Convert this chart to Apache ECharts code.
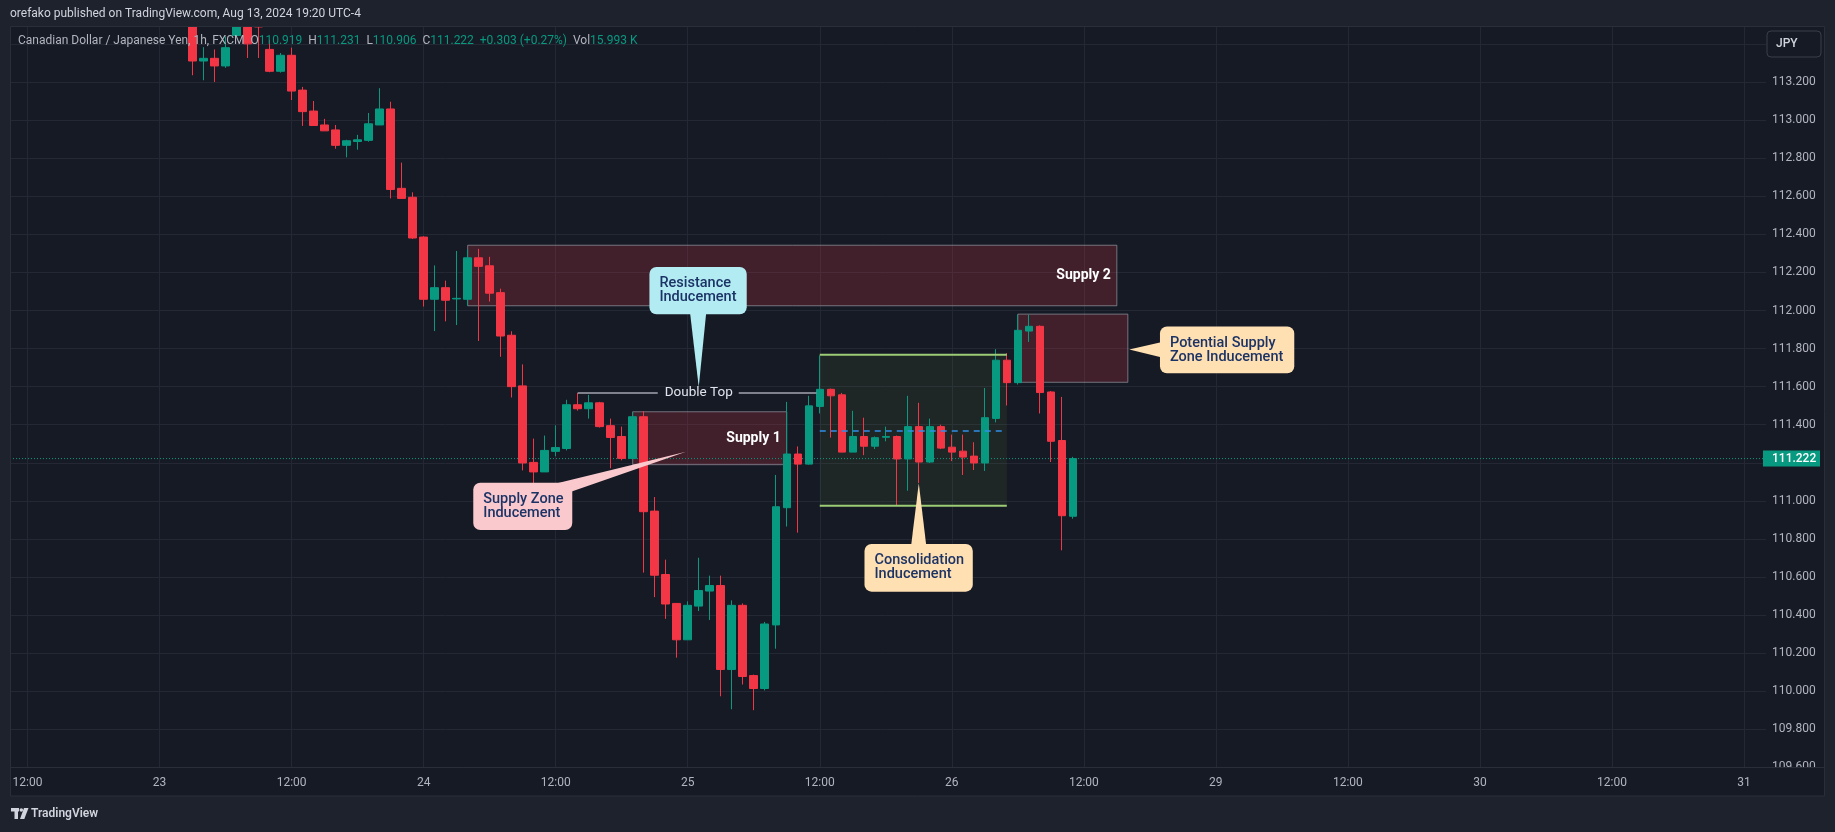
<!DOCTYPE html>
<html>
<head>
<meta charset="utf-8">
<script src="https://cdn.jsdelivr.net/npm/echarts@6.0.0/dist/echarts.min.js"></script>
<style>
html,body{margin:0;padding:0;background:#1e222d;overflow:hidden}
#chart{width:1835px;height:832px}
</style>
</head>
<body>
<div id="chart"></div>
<script>
// ---------------- DATA ----------------
// hourly session days shown on the time axis (weekend skipped)
const sessionDays = ['22', '23', '24', '25', '26', '29', '30', '31'];
const firstDayStartHour = 10;
const lastDayEndHour = 2;
// first visible candle
const firstCandleTime = 'Jul 23 03:00';
// CADJPY 1h candles
const openP = [113.52,113.311,113.325,113.285,113.445,113.52,113.56,113.372,113.257,113.341,113.158,113.048,112.975,112.949,112.868,112.888,112.894,112.975,113.059,112.642,112.595,112.386,112.059,112.120,112.061,112.059,112.277,112.235,112.094,111.870,111.604,111.202,111.152,111.260,111.275,111.505,111.484,111.515,111.395,111.338,111.223,111.442,110.946,110.613,110.461,110.270,110.447,110.526,110.555,110.114,110.451,110.082,110.014,110.348,110.964,111.246,111.193,111.496,111.586,111.557,111.256,111.338,111.287,111.334,111.338,111.220,111.390,111.204,111.390,111.282,111.261,111.235,111.199,111.433,111.739,111.621,111.892,111.917,111.572,111.317,110.919];
const closeP = [113.311,113.325,113.285,113.381,113.53,113.401,113.49,113.257,113.341,113.153,113.045,112.972,112.944,112.868,112.892,112.897,112.981,113.059,112.636,112.589,112.381,112.059,112.120,112.054,112.064,112.277,112.232,112.091,111.866,111.600,111.199,111.152,111.265,111.280,111.505,111.484,111.515,111.390,111.333,111.223,111.442,110.943,110.609,110.458,110.270,110.451,110.529,110.555,110.114,110.451,110.077,110.014,110.353,110.969,111.246,111.193,111.499,111.586,111.552,111.256,111.338,111.287,111.332,111.338,111.220,111.390,111.204,111.390,111.277,111.256,111.230,111.199,111.437,111.739,111.621,111.896,111.917,111.569,111.313,110.922,111.222];
const lowP = [113.236,113.210,113.201,113.275,113.44,113.327,113.327,113.252,113.25,113.106,112.970,112.972,112.944,112.850,112.805,112.845,112.887,112.975,112.589,112.589,112.376,112.021,111.892,111.943,111.924,112.025,111.840,112.047,111.757,111.543,111.160,110.95,111.152,111.234,111.265,111.474,111.432,111.385,111.171,111.213,111.22,110.623,110.494,110.380,110.176,110.270,110.421,110.374,109.973,109.905,110.035,109.900,110.004,110.223,110.865,110.833,111.19,111.459,111.332,111.256,111.256,111.240,111.272,111.313,110.974,111.053,111.094,111.199,111.272,111.209,111.136,111.162,111.157,111.412,111.501,111.611,111.835,111.459,111.204,110.740,110.906];
const highP = [113.56,113.384,113.372,113.440,113.57,113.55,113.58,113.422,113.353,113.381,113.175,113.101,113.007,112.975,112.897,112.923,113.038,113.168,113.097,112.777,112.621,112.39,112.237,112.157,112.313,112.32,112.324,112.282,112.115,111.891,111.717,111.327,111.343,111.397,111.531,111.567,111.557,111.520,111.432,111.390,111.468,111.472,111.020,110.691,110.461,110.472,110.701,110.607,110.607,110.477,110.461,110.087,110.364,111.136,111.520,111.286,111.552,111.764,111.59,111.567,111.473,111.437,111.338,111.390,111.343,111.552,111.515,111.432,111.400,111.348,111.348,111.308,111.593,111.797,111.776,111.979,111.979,111.922,111.577,111.546,111.231];

// Zones drawn on the chart: [startIndex, endIndex, topPrice, bottomPrice]
const supplyZones = [
  { label: 'Supply 2', x1: 42, x2: 101, top: 112.343, bottom: 112.025 },
  { label: 'Supply 1', x1: 57, x2: 71,  top: 111.468, bottom: 111.190 },
  { label: '',         x1: 92, x2: 102, top: 111.981, bottom: 111.623 }
];
const consolidationZone = { x1: 74, x2: 91, top: 111.767, bottom: 110.974, mid: 111.367, midEnd: 90.7 };
const doubleTop = { x1: 52, x2: 73.7, price: 111.567, label: 'Double Top', labelX: 63 };
const calloutTexts = [
  ['Resistance', 'Inducement'],
  ['Supply Zone', 'Inducement'],
  ['Consolidation', 'Inducement'],
  ['Potential Supply', 'Zone Inducement']
];
const calloutTips = [[63, 111.598], [61.84, 111.258], [83, 111.092], [102.13, 111.795]];

const headerText = 'orefako published on TradingView.com, Aug 13, 2024 19:20 UTC-4';
const symbolText = 'Canadian Dollar / Japanese Yen, 1h, FXCM';
const volumeText = '15.993 K';
const changeText = '+0.303 (+0.27%)';

// ---------------- BUILD ----------------
const categories = [];
sessionDays.forEach((d, k) => {
  const h0 = k === 0 ? firstDayStartHour : 0;
  const h1 = k === sessionDays.length - 1 ? lastDayEndHour : 23;
  for (let h = h0; h <= h1; h++) categories.push('Jul ' + d + ' ' + String(h).padStart(2, '0') + ':00');
});
const startIdx = categories.indexOf(firstCandleTime);
const candleData = categories.map((c, i) => {
  const k = i - startIdx;
  if (k < 0 || k >= openP.length) return '-';
  return [openP[k], closeP[k], lowP[k], highP[k]];
});
const lastK = openP.length - 1;
const lastClose = closeP[lastK];

const hourOf = (cat) => parseInt(cat.slice(7, 9), 10);
const dayOf = (cat) => cat.slice(4, 6);
const isMajor = (i, v) => { const h = hourOf(categories[i]); return h === 0 || h === 12; };

const UP = '#089981', DOWN = '#f23645';
const PANEL = '#161a25', OUTER = '#1e222d', GRID = '#242835', BORDER = '#2a2e39';
const TXT = '#b2b5be';
const FONT = 'Roboto, "Liberation Sans", sans-serif';

const chart = echarts.init(document.getElementById('chart'), null, { width: 1835, height: 832 });
chart.setOption({
  backgroundColor: PANEL,
  animation: false,
  grid: { left: 5.56, right: 69, top: 1.7, bottom: 64.7, containLabel: false },
  xAxis: {
    type: 'category',
    data: categories,
    boundaryGap: false,
    axisLine: { show: false },
    axisTick: { show: false },
    axisLabel: {
      interval: isMajor,
      color: TXT, fontSize: 12, fontFamily: FONT, margin: 10,
      formatter: (v) => hourOf(v) === 0 ? dayOf(v) : '12:00'
    },
    splitLine: { show: true, interval: isMajor, lineStyle: { color: GRID, width: 1 } }
  },
  yAxis: {
    type: 'value',
    position: 'right',
    min: 109.6, max: 113.6, interval: 0.2,
    axisLine: { show: false },
    axisTick: { show: false },
    axisLabel: {
      color: TXT, fontSize: 12, fontFamily: FONT, margin: 6,
      formatter: (v) => (Math.abs(v - lastClose) < 0.06 ? '' : v.toFixed(3))
    },
    splitLine: { show: true, lineStyle: { color: GRID, width: 1 } }
  },
  series: [{
    type: 'candlestick',
    data: candleData,
    barWidth: 8,
    z: 3,
    itemStyle: { color: UP, color0: DOWN, borderColor: UP, borderColor0: DOWN, borderWidth: 1 }
  }]
});

// pixel helper (fractional category index supported)
function P(x, y) {
  const x0 = Math.floor(x), f = x - x0;
  const a = chart.convertToPixel({ gridIndex: 0 }, [x0, y]);
  if (!f) return a;
  const b = chart.convertToPixel({ gridIndex: 0 }, [x0 + 1, y]);
  return [a[0] + (b[0] - a[0]) * f, a[1]];
}

const g = [];
// supply zones
supplyZones.forEach((z) => {
  const a = P(z.x1, z.top), b = P(z.x2, z.bottom);
  g.push({ type: 'rect', z: 1, shape: { x: a[0], y: a[1], width: b[0] - a[0], height: b[1] - a[1] },
    style: { fill: 'rgba(242,54,69,0.2)', stroke: 'rgba(150,152,162,0.7)', lineWidth: 1 } });
  if (z.label) {
    g.push({ type: 'text', z: 6, x: b[0] - 6, y: (a[1] + b[1]) / 2,
      style: { text: z.label, fill: '#ffffff', font: 'bold 14px ' + FONT, align: 'right', textAlign: 'right', verticalAlign: 'middle', textVerticalAlign: 'middle' } });
  }
});
// consolidation zone
{
  const z = consolidationZone;
  const a = P(z.x1, z.top), b = P(z.x2, z.bottom);
  g.push({ type: 'rect', z: 1, shape: { x: a[0], y: a[1], width: b[0] - a[0], height: b[1] - a[1] },
    style: { fill: 'rgba(110,170,50,0.09)' } });
  g.push({ type: 'line', z: 4, shape: { x1: a[0], y1: a[1], x2: b[0], y2: a[1] }, style: { stroke: '#9ccc75', lineWidth: 2 } });
  g.push({ type: 'line', z: 4, shape: { x1: a[0], y1: b[1], x2: b[0], y2: b[1] }, style: { stroke: '#9ccc75', lineWidth: 2 } });
  const m1 = P(z.x1, z.mid), m2 = P(z.midEnd, z.mid);
  g.push({ type: 'line', z: 4, shape: { x1: m1[0], y1: m1[1], x2: m2[0], y2: m2[1] }, style: { stroke: '#2f8fe8', lineWidth: 1.5, lineDash: [6, 5] } });
}
// double top
{
  const d = doubleTop;
  const a = P(d.x1, d.price), b = P(d.x2, d.price), c = P(d.labelX, d.price);
  g.push({ type: 'line', z: 4, shape: { x1: a[0], y1: a[1], x2: c[0] - 41, y2: a[1] }, style: { stroke: '#a3a6af', lineWidth: 1.5 } });
  g.push({ type: 'line', z: 4, shape: { x1: c[0] + 40, y1: a[1], x2: b[0], y2: a[1] }, style: { stroke: '#a3a6af', lineWidth: 1.5 } });
  g.push({ type: 'text', z: 5, x: c[0], y: c[1],
    style: { text: d.label, fill: '#e0e3eb', font: '13.5px ' + FONT, align: 'center', textAlign: 'center', verticalAlign: 'middle', textVerticalAlign: 'middle' } });
}
// current price dotted line
{
  const p = P(0, lastClose);
  g.push({ type: 'line', z: 1, shape: { x1: 10, y1: p[1], x2: 1763, y2: p[1] }, style: { stroke: UP, lineWidth: 1, lineDash: [1, 2] } });
}
// callouts (box geometry in pixel offsets from tip)
const calloutLayout = [
  { fill: '#b2ebf2', box: [-49.3, -120, 97.3, 47.3], base: [[-8.6, -73.5], [7.4, -73.5]] },
  { fill: '#f9c9ce', box: [-212.7, 31, 99, 47.3], base: [[-133, 32.5], [-115, 40]] },
  { fill: '#ffe0b2', box: [-54.3, 60.6, 108.3, 47.7], base: [[-7.6, 61.6], [7.4, 61.6]] },
  { fill: '#ffe0b2', box: [30.7, -23, 134.3, 46.7], base: [[31.7, -7.3], [31.7, 7.7]] }
];
calloutTips.forEach((tip, i) => {
  const t = P(tip[0], tip[1]);
  const L = calloutLayout[i];
  const bx = t[0] + L.box[0], by = t[1] + L.box[1];
  g.push({ type: 'polygon', z: 10, shape: { points: [[t[0] + L.base[0][0], t[1] + L.base[0][1]], [t[0] + L.base[1][0], t[1] + L.base[1][1]], [t[0], t[1]]] },
    style: { fill: L.fill } });
  g.push({ type: 'rect', z: 10, shape: { x: bx, y: by, width: L.box[2], height: L.box[3], r: 7 }, style: { fill: L.fill } });
  g.push({ type: 'text', z: 11, x: bx + 10, y: by + L.box[3] / 2,
    style: { text: calloutTexts[i].join('\n'), fill: '#1c3366', font: '500 14.5px ' + FONT, lineHeight: 14,
      align: 'left', textAlign: 'left', verticalAlign: 'middle', textVerticalAlign: 'middle' } });
});

// frame around the pane
g.push({ type: 'rect', z: 100, shape: { x: 0, y: 0, width: 1835, height: 26 }, style: { fill: OUTER } });
g.push({ type: 'rect', z: 100, shape: { x: 0, y: 0, width: 10, height: 832 }, style: { fill: OUTER } });
g.push({ type: 'rect', z: 100, shape: { x: 1825, y: 0, width: 10, height: 832 }, style: { fill: OUTER } });
g.push({ type: 'rect', z: 100, shape: { x: 0, y: 796, width: 1835, height: 36 }, style: { fill: OUTER } });
g.push({ type: 'rect', z: 100, shape: { x: 1763, y: 768, width: 62, height: 28 }, style: { fill: PANEL } });
g.push({ type: 'line', z: 101, shape: { x1: 10, y1: 767.5, x2: 1825, y2: 767.5 }, style: { stroke: BORDER, lineWidth: 1 } });
g.push({ type: 'rect', z: 101, shape: { x: 10.5, y: 26.5, width: 1814, height: 769.5 }, style: { fill: 'none', stroke: BORDER, lineWidth: 1 } });
// price tag
{
  const p = P(0, lastClose);
  g.push({ type: 'rect', z: 101, shape: { x: 1763, y: p[1] - 8, width: 57, height: 16 }, style: { fill: UP } });
  g.push({ type: 'text', z: 102, x: 1772, y: p[1],
    style: { text: lastClose.toFixed(3), fill: '#ffffff', font: '500 12px ' + FONT, align: 'left', textAlign: 'left', verticalAlign: 'middle', textVerticalAlign: 'middle' } });
}
// JPY button
g.push({ type: 'rect', z: 101, shape: { x: 1767, y: 31, width: 54, height: 26, r: 4 }, style: { fill: PANEL, stroke: '#3a3e4a', lineWidth: 1 } });
g.push({ type: 'text', z: 102, x: 1776, y: 44,
  style: { text: 'JPY', fill: '#d1d4dc', font: '500 12px ' + FONT, align: 'left', textAlign: 'left', verticalAlign: 'middle', textVerticalAlign: 'middle' } });
// header
g.push({ type: 'text', z: 102, x: 10, y: 13.5,
  style: { text: headerText, fill: '#d1d4dc', font: '12px ' + FONT, align: 'left', textAlign: 'left', verticalAlign: 'middle', textVerticalAlign: 'middle' } });
// legend
{
  const f = (v) => v.toFixed(3);
  const txt = '{g|' + symbolText + '}  {g|O}{v|' + f(openP[lastK]) + '}  {g|H}{v|' + f(highP[lastK]) + '}  {g|L}{v|' + f(lowP[lastK]) +
    '}  {g|C}{v|' + f(closeP[lastK]) + '}  {v|' + changeText + '}  {g|Vol}{v|' + volumeText + '}';
  g.push({ type: 'text', z: 102, x: 18, y: 41,
    style: { text: txt, font: '12px ' + FONT, align: 'left', textAlign: 'left', verticalAlign: 'middle', textVerticalAlign: 'middle',
      rich: { g: { fill: '#b2b5be', color: '#b2b5be', fontSize: 12, fontFamily: FONT }, v: { fill: UP, color: UP, fontSize: 12, fontFamily: FONT } } } });
}
// TradingView footer logo
g.push({ type: 'rect', z: 102, shape: { x: 11, y: 808, width: 8, height: 3.5 }, style: { fill: '#d1d4dc' } });
g.push({ type: 'rect', z: 102, shape: { x: 14.5, y: 808, width: 3.5, height: 11 }, style: { fill: '#d1d4dc' } });
g.push({ type: 'circle', z: 102, shape: { cx: 21.3, cy: 810, r: 1.8 }, style: { fill: '#d1d4dc' } });
g.push({ type: 'polygon', z: 102, shape: { points: [[24, 808], [28.5, 808], [24.3, 819], [20, 819]] }, style: { fill: '#d1d4dc' } });
g.push({ type: 'text', z: 102, x: 31, y: 813.5,
  style: { text: 'TradingView', fill: '#d1d4dc', font: '600 12px ' + FONT, align: 'left', textAlign: 'left', verticalAlign: 'middle', textVerticalAlign: 'middle' } });

chart.setOption({ graphic: g });
</script>
</body>
</html>
